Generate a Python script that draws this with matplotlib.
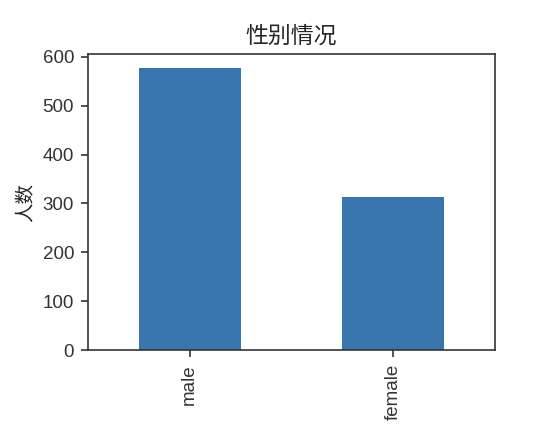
import matplotlib
matplotlib.use("Agg")
import matplotlib.pyplot as plt

plt.rcParams['font.family'] = ['Liberation Sans', 'Noto Sans CJK SC', 'DejaVu Sans']

categories = ['male', 'female']
counts = [577, 314]
title = '性别情况'
ylabel = '人数'

W, H = 560, 444
left, right, top, bottom = 88, 495, 54, 350
fig = plt.figure(figsize=(W / 100, H / 100), dpi=100)
ax = fig.add_axes([left / W, 1 - bottom / H, (right - left) / W, (bottom - top) / H])
x = list(range(len(categories)))
ax.bar(x, counts, width=0.5, color='#3a76ae')
ax.set_xlim(-0.5, len(categories) - 0.5)
ax.set_ylim(0, max(counts) * 1.05)
ax.set_xticks(x)
ax.set_xticklabels(categories, rotation=90, fontsize=13.5, color='#262626')
ax.tick_params(axis='y', labelsize=13.5, labelcolor='#262626')
ax.tick_params(colors='#333333', length=5, width=1.2, pad=5)
for s in ax.spines.values():
    s.set_color('#333333')
    s.set_linewidth(1.2)
ax.set_title(title, fontsize=16.5, color='#262626', pad=8)
ax.set_ylabel(ylabel, fontsize=14, color='#262626', labelpad=5)
fig.savefig('out.png', dpi=100)
